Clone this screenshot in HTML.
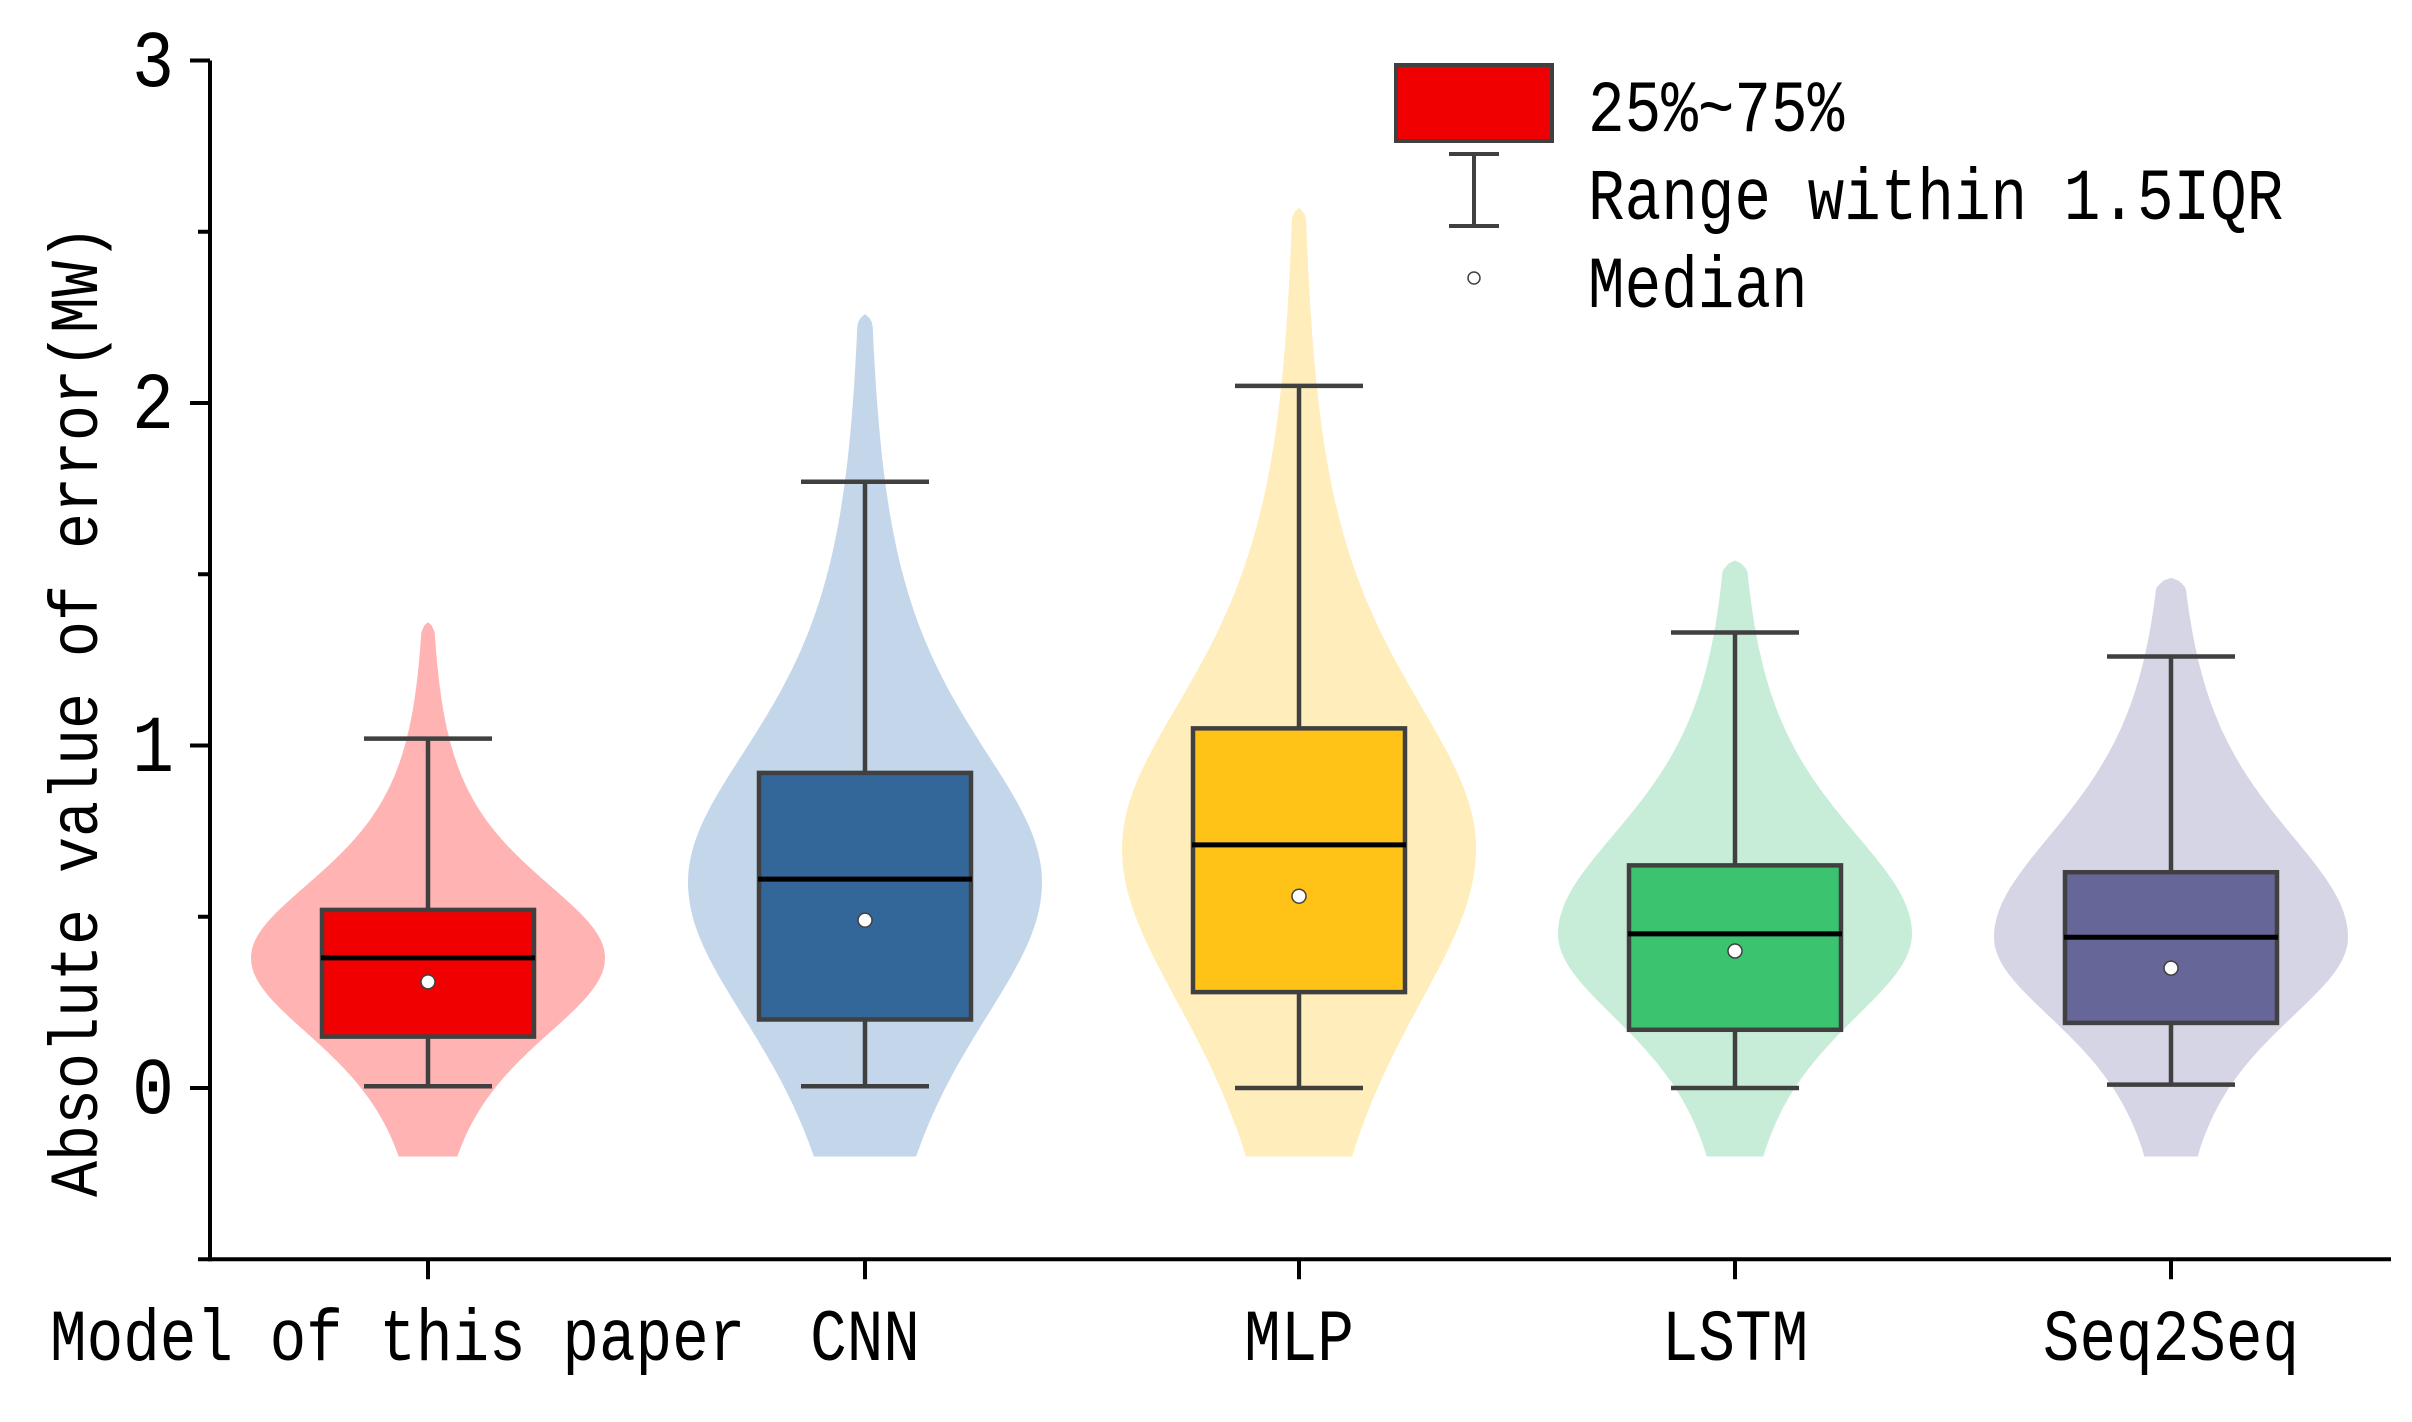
<!DOCTYPE html>
<html><head><meta charset="utf-8"><style>
html,body{margin:0;padding:0;background:#fff;}
svg text{font-family:"Liberation Mono",monospace;fill:#000;}
</style></head><body>
<svg id="s" width="2412" height="1417" viewBox="0 0 2412 1417" xmlns="http://www.w3.org/2000/svg">
<g id="violins"></g>
<g id="boxes"></g>
<g id="axes" stroke="#000" stroke-width="4"></g>
<g font-size="70" text-anchor="end">
<text transform="translate(174,86) scale(1,1.15)">3</text>
<text transform="translate(174,428) scale(1,1.15)">2</text>
<text transform="translate(174,771) scale(1,1.15)">1</text>
<text transform="translate(174,1113) scale(1,1.15)">0</text>
</g>
<text font-size="60" text-anchor="middle" transform="translate(97,711) rotate(-90) scale(1,1.15)">Absolute value of error(MW)</text>
<g font-size="61">
<text transform="translate(50,1360) scale(1,1.2)">Model of this paper</text>
<text text-anchor="middle" transform="translate(865,1360) scale(1,1.2)">CNN</text>
<text text-anchor="middle" transform="translate(1299,1360) scale(1,1.2)">MLP</text>
<text text-anchor="middle" transform="translate(1735,1360) scale(1,1.2)">LSTM</text>
<text text-anchor="middle" transform="translate(2171,1360) scale(1,1.2)">Seq2Seq</text>
</g>
<!-- legend -->
<rect x="1396" y="65" width="156" height="76" fill="#f00000" stroke="#404040" stroke-width="4"/>
<g stroke="#404040" stroke-width="4">
<line x1="1474" y1="154" x2="1474" y2="226"/><line x1="1449" y1="154" x2="1499" y2="154"/><line x1="1449" y1="226" x2="1499" y2="226"/>
</g>
<circle cx="1474" cy="278" r="6" fill="#fff" stroke="#404040" stroke-width="1.5"/>
<g font-size="61">
<text transform="translate(1588,131) scale(1,1.2)">25%~75%</text>
<text transform="translate(1588,219) scale(1,1.2)">Range within 1.5IQR</text>
<text transform="translate(1588,307) scale(1,1.2)">Median</text>
</g>
</svg>
<script>
var Y=function(v){return 1088-342.5*v;};
var NS="http://www.w3.org/2000/svg";
function el(p,n,a){var e=document.createElementNS(NS,n);for(var k in a)e.setAttribute(k,a[k]);p.appendChild(e);return e;}
var ga=document.getElementById("axes");
el(ga,"line",{x1:210,y1:Y(3),x2:210,y2:Y(-0.5)+2});
el(ga,"line",{x1:208,y1:Y(-0.5),x2:2391,y2:Y(-0.5)});
for(var k=0;k<=7;k++){var v=3-k*0.5;el(ga,"line",{x1:(k%2==0?190:198),y1:Y(v),x2:210,y2:Y(v)});}
[428,865,1299,1735,2171].forEach(function(x){el(ga,"line",{x1:x,y1:Y(-0.5),x2:x,y2:Y(-0.5)+20});});
var data=[
 {x:428,vc:"#ffb3b3",bc:"#f00000",m:0.38,sl:0.34,su:0.33,top:1.36,wl:0.005,wh:1.02,q1:0.15,q3:0.52,med:0.38,dot:0.31},
 {x:865,vc:"#c3d6ea",bc:"#336699",m:0.60,sl:0.61,su:0.59,top:2.26,wl:0.005,wh:1.77,q1:0.20,q3:0.92,med:0.61,dot:0.49},
 {x:1299,vc:"#ffedbc",bc:"#ffc217",m:0.70,sl:0.70,su:0.65,top:2.57,wl:0.0,wh:2.05,q1:0.28,q3:1.05,med:0.71,dot:0.56},
 {x:1735,vc:"#c7edd8",bc:"#3bc370",m:0.45,sl:0.375,su:0.45,top:1.54,wl:0.0,wh:1.33,q1:0.17,q3:0.65,med:0.45,dot:0.40},
 {x:2171,vc:"#d5d5e5",bc:"#666699",m:0.44,sl:0.36,su:0.46,top:1.49,wl:0.01,wh:1.26,q1:0.19,q3:0.63,med:0.44,dot:0.35}
];
var gv=document.getElementById("violins"),gb=document.getElementById("boxes");
data.forEach(function(d){
  var W=177,pts=[],N=200;
  for(var i=0;i<=N;i++){
    var v=-0.2+(d.top+0.2)*i/N;
    var dd=v-d.m,s=dd<0?d.sl:d.su;
    var w=W*Math.pow(1+dd*dd/(2*s*s),-2);
    var t=(d.top-v)/0.03; if(t<1) w*=Math.sqrt(Math.max(t,0));
    pts.push([v,Math.max(w,0)]);
  }
  var path="M"+(d.x-pts[0][1])+","+Y(pts[0][0]);
  pts.forEach(function(p){path+="L"+(d.x-p[1]).toFixed(1)+","+Y(p[0]).toFixed(1);});
  for(var i=pts.length-1;i>=0;i--){var p=pts[i];path+="L"+(d.x+p[1]).toFixed(1)+","+Y(p[0]).toFixed(1);}
  path+="Z";
  el(gv,"path",{d:path,fill:d.vc});
  var st={stroke:"#404040","stroke-width":4.5};
  el(gb,"line",Object.assign({x1:d.x,y1:Y(d.wl),x2:d.x,y2:Y(d.wh)},st));
  el(gb,"line",Object.assign({x1:d.x-64,y1:Y(d.wl),x2:d.x+64,y2:Y(d.wl)},st));
  el(gb,"line",Object.assign({x1:d.x-64,y1:Y(d.wh),x2:d.x+64,y2:Y(d.wh)},st));
  el(gb,"rect",Object.assign({x:d.x-106,y:Y(d.q3),width:212,height:Y(d.q1)-Y(d.q3),fill:d.bc},st));
  el(gb,"line",{x1:d.x-107,y1:Y(d.med),x2:d.x+107,y2:Y(d.med),stroke:"#000","stroke-width":5});
  el(gb,"circle",{cx:d.x,cy:Y(d.dot),r:7,fill:"#fff",stroke:"#404040","stroke-width":1.5});
});
</script>
</body></html>
